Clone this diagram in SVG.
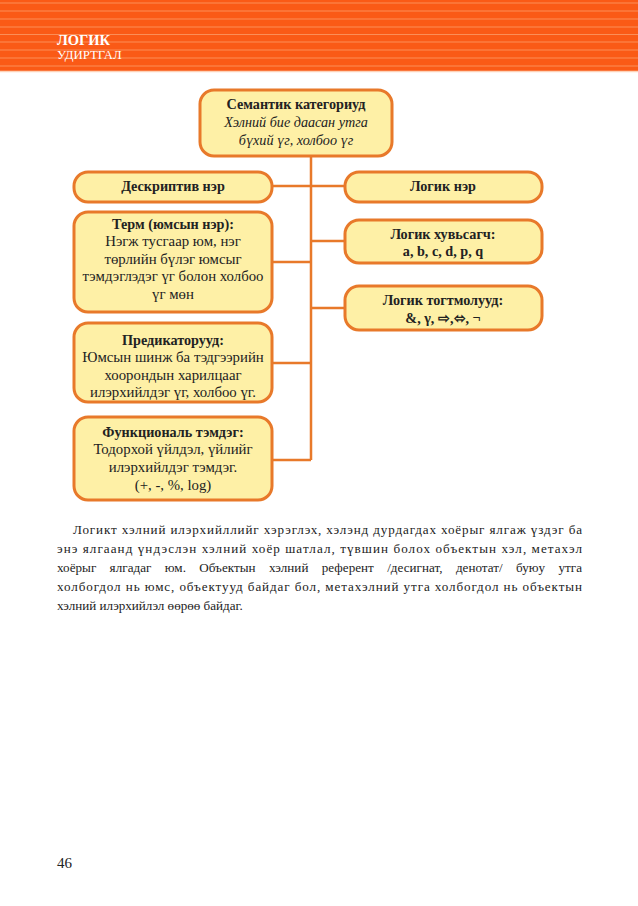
<svg xmlns="http://www.w3.org/2000/svg" width="638" height="906" viewBox="0 0 638 906">
<style>
.box{fill:#FEF0A6;stroke:#E8792A;stroke-width:3}
.ln{stroke:#E8792A;stroke-width:2.5;fill:none}
text{font-family:"Liberation Serif","Times New Roman",serif;fill:#222}
.c{text-anchor:middle;font-size:14.8px}
.b{font-weight:bold;font-size:14.2px}
.i{font-style:italic;font-size:14.2px}
.p{font-size:13.1px}
.stripe{stroke:#FB8E57;stroke-width:1.2}
</style>
<rect x="0" y="0" width="638" height="906" fill="#fff"/>
<g id="header">
<rect x="0" y="0" width="638" height="71" fill="#FA5A16"/>
<line class="stripe" x1="0" y1="3" x2="638" y2="3"/>
<line class="stripe" x1="0" y1="11" x2="638" y2="11"/>
<line class="stripe" x1="0" y1="19" x2="638" y2="19"/>
<line class="stripe" x1="0" y1="27" x2="638" y2="27"/>
<line class="stripe" x1="0" y1="34.5" x2="638" y2="34.5"/>
<line class="stripe" x1="0" y1="42" x2="638" y2="42"/>
<line class="stripe" x1="0" y1="50" x2="638" y2="50"/>
<line class="stripe" x1="0" y1="58" x2="638" y2="58"/>
<line class="stripe" x1="0" y1="66" x2="638" y2="66"/>
<line x1="0" y1="71.5" x2="638" y2="71.5" stroke="#FDD2B8" stroke-width="1.5"/>
<text x="57" y="45" style="font-size:14.5px;font-weight:bold;fill:#fff">ЛОГИК</text>
<text x="57" y="59" style="font-size:12.8px;fill:#fff">УДИРТГАЛ</text>
</g>
<g id="connectors">
<line class="ln" x1="311" y1="156" x2="311" y2="460"/>
<line class="ln" x1="272" y1="186" x2="345" y2="186"/>
<line class="ln" x1="272" y1="262" x2="311" y2="262"/>
<line class="ln" x1="311" y1="241" x2="345" y2="241"/>
<line class="ln" x1="311" y1="308" x2="345" y2="308"/>
<line class="ln" x1="272" y1="363" x2="311" y2="363"/>
<line class="ln" x1="272" y1="460" x2="311" y2="460"/>
</g>
<g id="semantic">
<rect class="box" x="200" y="90" width="192" height="66" rx="14"/>
<text class="c b" x="296" y="109">Семантик категориуд</text>
<text class="c i" x="296" y="127">Хэлний бие даасан утга</text>
<text class="c i" x="296" y="145">бүхий үг, холбоо үг</text>
</g>
<g id="descriptive">
<rect class="box" x="74" y="172" width="198" height="30" rx="14"/>
<text class="c b" x="173" y="191">Дескриптив нэр</text>
</g>
<g id="logic-name">
<rect class="box" x="345" y="172" width="197" height="30" rx="14"/>
<text class="c b" x="443" y="191">Логик нэр</text>
</g>
<g id="term">
<rect class="box" x="74" y="212" width="198" height="100" rx="14"/>
<text class="c b" x="173" y="229">Терм (юмсын нэр):</text>
<text class="c" x="173" y="246">Нэгж тусгаар юм, нэг</text>
<text class="c" x="173" y="264">төрлийн бүлэг юмсыг</text>
<text class="c" x="173" y="281">тэмдэглэдэг үг болон холбоо</text>
<text class="c" x="173" y="299">үг мөн</text>
</g>
<g id="logic-var">
<rect class="box" x="345" y="220" width="197" height="43" rx="14"/>
<text class="c b" x="443" y="239">Логик хувьсагч:</text>
<text class="c b" x="443" y="256">a, b, c, d, p, q</text>
</g>
<g id="logic-const">
<rect class="box" x="345" y="286" width="197" height="44" rx="14"/>
<text class="c b" x="443" y="305">Логик тогтмолууд:</text>
<text class="c b" x="443" y="323">&amp;, γ, ⇨,⬄, ¬</text>
</g>
<g id="predicate">
<rect class="box" x="74" y="323" width="198" height="79" rx="14"/>
<text class="c b" x="173" y="345">Предикаторууд:</text>
<text class="c" x="173" y="362">Юмсын шинж ба тэдгээрийн</text>
<text class="c" x="173" y="380">хоорондын харилцааг</text>
<text class="c" x="173" y="397">илэрхийлдэг үг, холбоо үг.</text>
</g>
<g id="function">
<rect class="box" x="74" y="417" width="198" height="83" rx="14"/>
<text class="c b" x="173" y="437">Функциональ тэмдэг:</text>
<text class="c" x="173" y="454">Тодорхой үйлдэл, үйлийг</text>
<text class="c" x="173" y="472">илэрхийлдэг тэмдэг.</text>
<text class="c" x="173" y="490">(+, -, %, log)</text>
</g>
<g id="paragraph">
<text class="p" x="73" y="534" textLength="509" lengthAdjust="spacing">Логикт хэлний илэрхийллийг хэрэглэх, хэлэнд дурдагдах хоёрыг ялгаж үздэг ба</text>
<text class="p" x="57" y="553" textLength="525" lengthAdjust="spacing">энэ ялгаанд үндэслэн хэлний хоёр шатлал, түвшин болох объектын хэл, метахэл</text>
<text class="p" x="57" y="572" textLength="525" lengthAdjust="spacing" word-spacing="10">хоёрыг ялгадаг юм. Объектын хэлний референт /десигнат, денотат/ буюу утга</text>
<text class="p" x="57" y="591" textLength="525" lengthAdjust="spacing">холбогдол нь юмс, объектууд байдаг бол, метахэлний утга холбогдол нь объектын</text>
<text class="p" x="57" y="610">хэлний илэрхийлэл өөрөө байдаг.</text>
</g>
<text x="57" y="868" style="font-size:15px">46</text>
</svg>
